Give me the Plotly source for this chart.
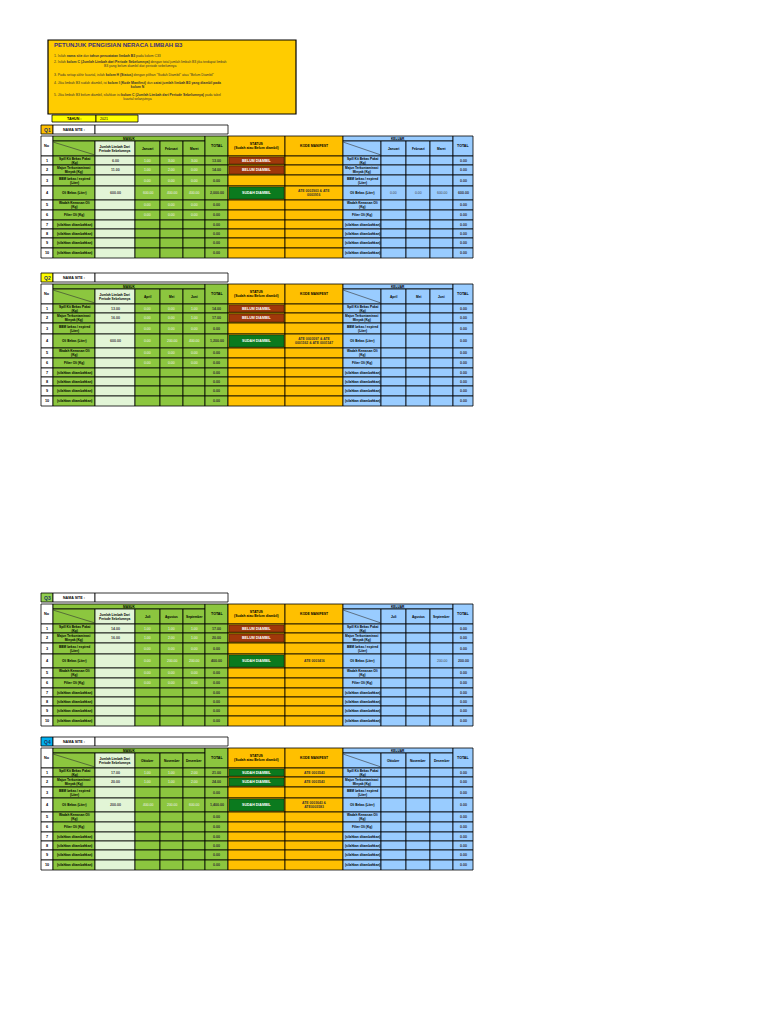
import plotly.graph_objects as go

# ---------------- data ----------------
quarters = ["Q1", "Q2", "Q3", "Q4"]
q_colors = ["#FFC000", "#FFFF00", "#92D050", "#00B0F0"]
months = [["Januari", "Februari", "Maret"], ["April", "Mei", "Juni"],
          ["Juli", "Agustus", "September"], ["Oktober", "November", "Desember"]]
waste = ["Spill Kit Bekas Pakai<br>(Kg)", "Majun Terkontaminasi<br>Minyak (Kg)", "BBM bekas / expired<br>(Liter)",
         "Oli Bekas (Liter)", "Wadah Kemasan Oli<br>(Kg)", "Filter Oli (Kg)",
         "(silahkan ditambahkan)", "(silahkan ditambahkan)", "(silahkan ditambahkan)", "(silahkan ditambahkan)"]
prev_q1 = ["6.00", "11.00", "", "600.00", "", "", "", "", "", ""]
prev_q2 = ["13.00", "16.00", "", "600.00", "", "", "", "", "", ""]
prev_q3 = ["14.00", "16.00", "", "", "", "", "", "", "", ""]
prev_q4 = ["17.00", "20.00", "", "200.00", "", "", "", "", "", ""]
in_q1 = [["1.00", "3.00", "3.00"], ["1.00", "2.00", "0.00"], ["0.00", "0.00", "0.00"], ["600.00", "400.00", "400.00"],
         ["0.00", "0.00", "0.00"], ["0.00", "0.00", "0.00"]]
in_q2 = [["0.00", "0.00", "1.00"], ["0.00", "0.00", "1.00"], ["0.00", "0.00", "0.00"], ["0.00", "200.00", "400.00"],
         ["0.00", "0.00", "0.00"], ["0.00", "0.00", "0.00"]]
in_q3 = [["1.00", "1.00", "1.00"], ["1.00", "2.00", "1.00"], ["0.00", "0.00", "0.00"], ["0.00", "200.00", "200.00"],
         ["0.00", "0.00", "0.00"], ["0.00", "0.00", "0.00"]]
in_q4 = [["1.00", "1.00", "2.00"], ["1.00", "1.00", "2.00"], ["", "", ""], ["400.00", "200.00", "600.00"],
         ["", "", ""], ["", "", ""]]
total_q1 = ["13.00", "14.00", "0.00", "2,000.00", "0.00", "0.00", "0.00", "0.00", "0.00", "0.00"]
total_q2 = ["14.00", "17.00", "0.00", "1,200.00", "0.00", "0.00", "0.00", "0.00", "0.00", "0.00"]
total_q3 = ["17.00", "20.00", "0.00", "400.00", "0.00", "0.00", "0.00", "0.00", "0.00", "0.00"]
total_q4 = ["21.00", "24.00", "0.00", "1,400.00", "0.00", "0.00", "0.00", "0.00", "0.00", "0.00"]
status_q1 = ["BELUM DIAMBIL", "BELUM DIAMBIL", "", "SUDAH DIAMBIL", "", "", "", "", "", ""]
status_q2 = ["BELUM DIAMBIL", "BELUM DIAMBIL", "", "SUDAH DIAMBIL", "", "", "", "", "", ""]
status_q3 = ["BELUM DIAMBIL", "BELUM DIAMBIL", "", "SUDAH DIAMBIL", "", "", "", "", "", ""]
status_q4 = ["SUDAH DIAMBIL", "SUDAH DIAMBIL", "", "SUDAH DIAMBIL", "", "", "", "", "", ""]
kode_q1 = ["", "", "", "ATE 0002903 & ATE<br>0003916", "", "", "", "", "", ""]
kode_q2 = ["", "", "", "ATE 0003097 & ATE<br>0001562 & ATE 0001547", "", "", "", "", "", ""]
kode_q3 = ["", "", "", "ATE 0003416", "", "", "", "", "", ""]
kode_q4 = ["ATE 0003543", "ATE 0003543", "", "ATE 0003643 &<br>ATE0003583", "", "", "", "", "", ""]
out_row4 = [["0.00", "0.00", "600.00"], ["", "", ""], ["", "", "200.00"], ["", "", ""]]
out_total_q1 = ["0.00", "0.00", "0.00", "600.00", "0.00", "0.00", "0.00", "0.00", "0.00", "0.00"]
out_total_q2 = ["0.00"] * 10
out_total_q3 = ["0.00", "0.00", "0.00", "200.00", "0.00", "0.00", "0.00", "0.00", "0.00", "0.00"]
out_total_q4 = ["0.00"] * 10
instructions = [
    "1. Isilah <b>nama site</b> dan <b>tahun pencatatan limbah B3</b> pada kolom C33",
    "2. Isilah <b>kolom C (Jumlah Limbah dari Periode Sebelumnya)</b> dengan total jumlah limbah B3 jika terdapat limbah<br>B3 yang belum diambil dari periode sebelumnya",
    "3. Pada setiap akhir kuartal, isilah <b>kolom H (Status)</b> dengan pilihan \"Sudah Diambil\" atau \"Belum Diambil\"",
    "4. Jika limbah B3 sudah diambil, isi <b>kolom I (Kode Manifest)</b> dan <b>catat jumlah limbah B3 yang diambil pada<br>kolom N</b>",
    "5. Jika limbah B3 belum diambil, silahkan isi <b>kolom C (Jumlah Limbah dari Periode Sebelumnya)</b> pada tabel<br>kuartal selanjutnya",
]

prevs = [prev_q1, prev_q2, prev_q3, prev_q4]
ins = [in_q1, in_q2, in_q3, in_q4]
totals = [total_q1, total_q2, total_q3, total_q4]
statuses = [status_q1, status_q2, status_q3, status_q4]
kodes = [kode_q1, kode_q2, kode_q3, kode_q4]
out_totals = [out_total_q1, out_total_q2, out_total_q3, out_total_q4]

# ---------------- drawing ----------------
FONT = "Liberation Sans"
GREEN, LGREEN, ORANGE, BLUE = "#8CC63F", "#E2F5D6", "#FFC000", "#99CCFF"
BROWN, DGREEN = "#A0380A", "#0B7A1E"
shapes, annos = [], []


def rect(x0, x1, y0, y1, fill, lw=0.8):
    shapes.append(dict(type="rect", x0=x0, x1=x1, y0=y0, y1=y1, fillcolor=fill,
                       line=dict(color="black", width=lw), layer="below"))


def text(x, y, t, size=3.6, color="black", bold=True, xanchor="center"):
    if bold:
        t = "<b>" + t + "</b>"
    annos.append(dict(x=x, y=y, text=t, showarrow=False, xanchor=xanchor, yanchor="middle",
                      font=dict(family=FONT, size=size, color=color)))


def cell(x0, x1, y0, y1, fill, t="", **kw):
    rect(x0, x1, y0, y1, fill)
    if t:
        text((x0 + x1) / 2, (y0 + y1) / 2, t, **kw)


# instruction box
rect(40, 288, 32, 106, "#FFCC00", lw=1.2)
text(44, 37, "PETUNJUK PENGISIAN NERACA LIMBAH B3", size=6, color="#3A2F7A", xanchor="left")
ys = [46, 54, 65, 75, 87]
for yy, t in zip(ys, instructions):
    text(44, yy + 2, t, size=3.4, bold=False, xanchor="left", color="#333")
cell(44, 88, 107, 114, "#FFFF00", "TAHUN :", size=3.6)
cell(88, 130, 107, 114, "#FFFF00")
text(90, 110.5, "2021", size=3.6, bold=False, xanchor="left")

X = [33, 45, 87, 127, 152, 175, 197, 220, 277, 335, 373, 398, 422, 445, 465]
rows_rel = [31, 40, 50, 61, 75, 85, 95, 104, 113, 123, 133]
offsets = [0, 148, 468, 612]
base = 117

for q in range(4):
    o = base + offsets[q]
    # title row
    cell(X[0], X[1], o, o + 9, q_colors[q], quarters[q], size=5, color="#1F3864")
    cell(X[1], X[2], o, o + 9, "white", "NAMA SITE :", size=3.6)
    cell(X[2], X[7], o, o + 9, "white")
    # headers
    h0, h1, h2 = o + 11, o + 16, o + 31
    cell(X[0], X[1], h0, h2, "white", "No", size=3.8)
    cell(X[1], X[6], h0, h1, GREEN, "MASUK", size=3.2)
    rect(X[1], X[2], h1, h2, GREEN)
    shapes.append(dict(type="line", x0=X[1], y0=h1 + 1, x1=X[2], y1=h2 - 1, line=dict(color="#333", width=0.6)))
    cell(X[2], X[3], h1, h2, LGREEN, "Jumlah Limbah Dari<br>Periode Sebelumnya", size=3.2)
    for m in range(3):
        cell(X[3 + m], X[4 + m], h1, h2, GREEN, months[q][m], size=3.2)
    cell(X[6], X[7], h0, h2, GREEN, "TOTAL", size=3.6)
    cell(X[7], X[8], h0, h2, ORANGE, "STATUS<br>(Sudah atau Belum diambil)", size=3.4)
    cell(X[8], X[9], h0, h2, ORANGE, "KODE MANIFEST", size=3.4)
    cell(X[9], X[13], h0, h1, BLUE, "KELUAR", size=3.2)
    rect(X[9], X[10], h1, h2, BLUE)
    shapes.append(dict(type="line", x0=X[9], y0=h1 + 1, x1=X[10], y1=h2 - 1, line=dict(color="#333", width=0.6)))
    for m in range(3):
        cell(X[10 + m], X[11 + m], h1, h2, BLUE, months[q][m], size=3.2)
    cell(X[13], X[14], h0, h2, BLUE, "TOTAL", size=3.6)
    # data rows
    for r in range(10):
        y0, y1 = o + rows_rel[r], o + rows_rel[r + 1]
        cell(X[0], X[1], y0, y1, "white", str(r + 1), size=3.8)
        cell(X[1], X[2], y0, y1, GREEN, waste[r], size=3.2)
        cell(X[2], X[3], y0, y1, LGREEN, prevs[q][r], size=3.6, color="#444")
        for m in range(3):
            v = ins[q][r][m] if r < 6 else ""
            cell(X[3 + m], X[4 + m], y0, y1, GREEN, v, size=3.4, color="#F2F2F2", bold=False)
        cell(X[6], X[7], y0, y1, GREEN, totals[q][r], size=3.6, color="#333")
        s = statuses[q][r]
        sfill = BROWN if s.startswith("BELUM") else (DGREEN if s else ORANGE)
        rect(X[7], X[8], y0, y1, ORANGE)
        if s:
            rect(X[7] + 1, X[8] - 1, y0 + 1, y1 - 1, sfill, lw=0.3)
            text((X[7] + X[8]) / 2, (y0 + y1) / 2, s, size=3.6, color="white")
        cell(X[8], X[9], y0, y1, ORANGE, kodes[q][r], size=3.4, color="#333")
        cell(X[9], X[10], y0, y1, BLUE, waste[r], size=3.2)
        for m in range(3):
            v = out_row4[q][m] if r == 3 else ""
            cell(X[10 + m], X[11 + m], y0, y1, BLUE, v, size=3.4, color="#444", bold=False)
        cell(X[13], X[14], y0, y1, BLUE, out_totals[q][r], size=3.6, color="#333")

fig = go.Figure()
fig.update_layout(width=768, height=1024, margin=dict(l=0, r=0, t=0, b=0),
                  paper_bgcolor="white", plot_bgcolor="white",
                  xaxis=dict(range=[0, 768], visible=False, fixedrange=True),
                  yaxis=dict(range=[1024, 0], visible=False, fixedrange=True),
                  shapes=shapes, annotations=annos, showlegend=False)
fig.write_html("out.html", config={"displayModeBar": False})
